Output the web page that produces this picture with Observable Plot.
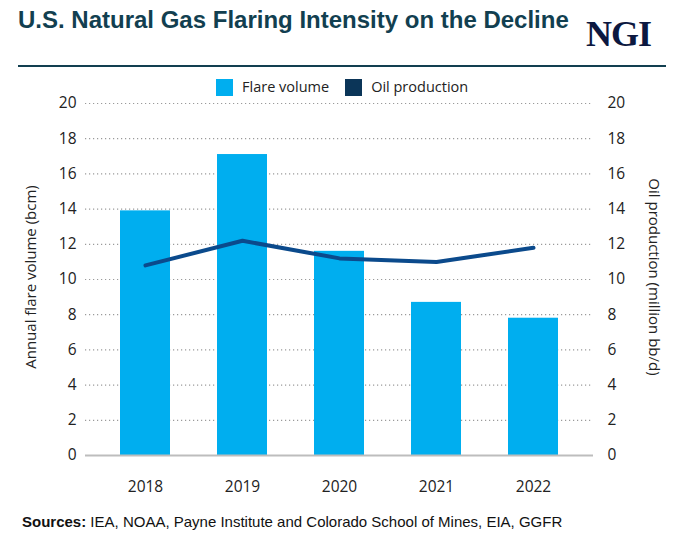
<!DOCTYPE html>
<html>
<head>
<meta charset="utf-8">
<script src="https://cdn.jsdelivr.net/npm/d3@7"></script>
<script src="https://cdn.jsdelivr.net/npm/@observablehq/plot@0.6"></script>
<style>
  html, body { margin: 0; padding: 0; background: #fff; }
  #wrap { position: relative; width: 684px; height: 540px; overflow: hidden; font-family: "Open Sans", sans-serif; }
  #title { position: absolute; left: 18px; top: 6px; font-family: "Liberation Sans", Arial, sans-serif; font-weight: bold; font-size: 24px; color: #123f50; white-space: nowrap; }
  #logo { position: absolute; left: 586px; top: 13px; font-family: "Liberation Serif", "Times New Roman", serif; font-weight: bold; font-size: 36px; color: #0c1840; letter-spacing: -1px; }
  #rule { position: absolute; left: 18px; top: 65px; width: 648px; height: 2px; background: #123f50; }
  #legend { position: absolute; left: 216px; top: 77px; font-size: 14.5px; color: #222; white-space: nowrap; }
  #legend span.sw { display: inline-block; width: 17px; height: 17px; vertical-align: -4px; margin-right: 9px; }
  #legend span.item { margin-right: 16px; }
  #plot { position: absolute; left: 0; top: 85px; }
  .ytitle { position: absolute; font-size: 15px; color: #222; white-space: nowrap; transform-origin: center center; }
  #ylabL { left: 30px; top: 277px; transform: translate(-50%, -50%) rotate(-90deg); }
  #ylabR { left: 655px; top: 277px; transform: translate(-50%, -50%) rotate(90deg); }
  #caption { position: absolute; left: 22px; top: 513px; font-family: "Liberation Sans", Arial, sans-serif; font-size: 15px; color: #111; white-space: nowrap; }
</style>
</head>
<body>
<div id="wrap">
  <div id="title">U.S. Natural Gas Flaring Intensity on the Decline</div>
  <div id="logo">NGI</div>
  <div id="rule"></div>
  <div id="legend"></div>
  <div id="plot"></div>
  <div class="ytitle" id="ylabL">Annual flare volume (bcm)</div>
  <div class="ytitle" id="ylabR">Oil production (million bb/d)</div>
  <div id="caption"><b>Sources:</b> IEA, NOAA, Payne Institute and Colorado School of Mines, EIA, GGFR</div>
</div>
<script>
const years = ["2018", "2019", "2020", "2021", "2022"];
const flareVolume = [13.9, 17.1, 11.6, 8.7, 7.8];
const oilProduction = [10.8, 12.2, 11.2, 11.0, 11.8];
const yTicks = [0, 2, 4, 6, 8, 10, 12, 14, 16, 18, 20];
const seriesNames = ["Flare volume", "Oil production"];
const seriesColors = ["#00aeef", "#0b3558"];
const lineColor = "#0b4a8c";

const data = years.map((y, i) => ({year: y, flare: flareVolume[i], oil: oilProduction[i]}));

// legend
const legend = document.getElementById("legend");
seriesNames.forEach((n, i) => {
  const item = document.createElement("span");
  item.className = "item";
  item.innerHTML = `<span class="sw" style="background:${seriesColors[i]}"></span>${n}`;
  legend.appendChild(item);
});

const chart = Plot.plot({
  width: 684,
  height: 415,
  marginLeft: 85,
  marginRight: 91,
  marginTop: 18,
  marginBottom: 45,
  style: {fontFamily: "'Open Sans', sans-serif", fontSize: "15px", color: "#222", background: "transparent", overflow: "visible"},
  x: {domain: years, paddingInner: 0.485, paddingOuter: 0.36, label: null},
  y: {domain: [0, 20], label: null},
  marks: [
    Plot.gridY(yTicks, {stroke: "#9a9a9a", strokeOpacity: 1, strokeDasharray: "1.2,2.8", strokeWidth: 1.2}),
    Plot.barY(data, {x: "year", y: "flare", fill: seriesColors[0]}),
    Plot.ruleY([0], {stroke: "#bdbdbd", strokeWidth: 2}),
    Plot.line(data, {x: "year", y: "oil", stroke: lineColor, strokeWidth: 4, strokeLinejoin: "round", strokeLinecap: "round"}),
    Plot.axisY(yTicks, {anchor: "left", tickSize: 0, tickPadding: 9, label: null, fontSize: 15.5}),
    Plot.axisY(yTicks, {anchor: "right", tickSize: 0, tickPadding: 14, label: null, fontSize: 15.5}),
    Plot.axisX({tickSize: 0, tickPadding: 25, label: null, fontSize: 15.5})
  ]
});
document.getElementById("plot").appendChild(chart);
</script>
</body>
</html>
